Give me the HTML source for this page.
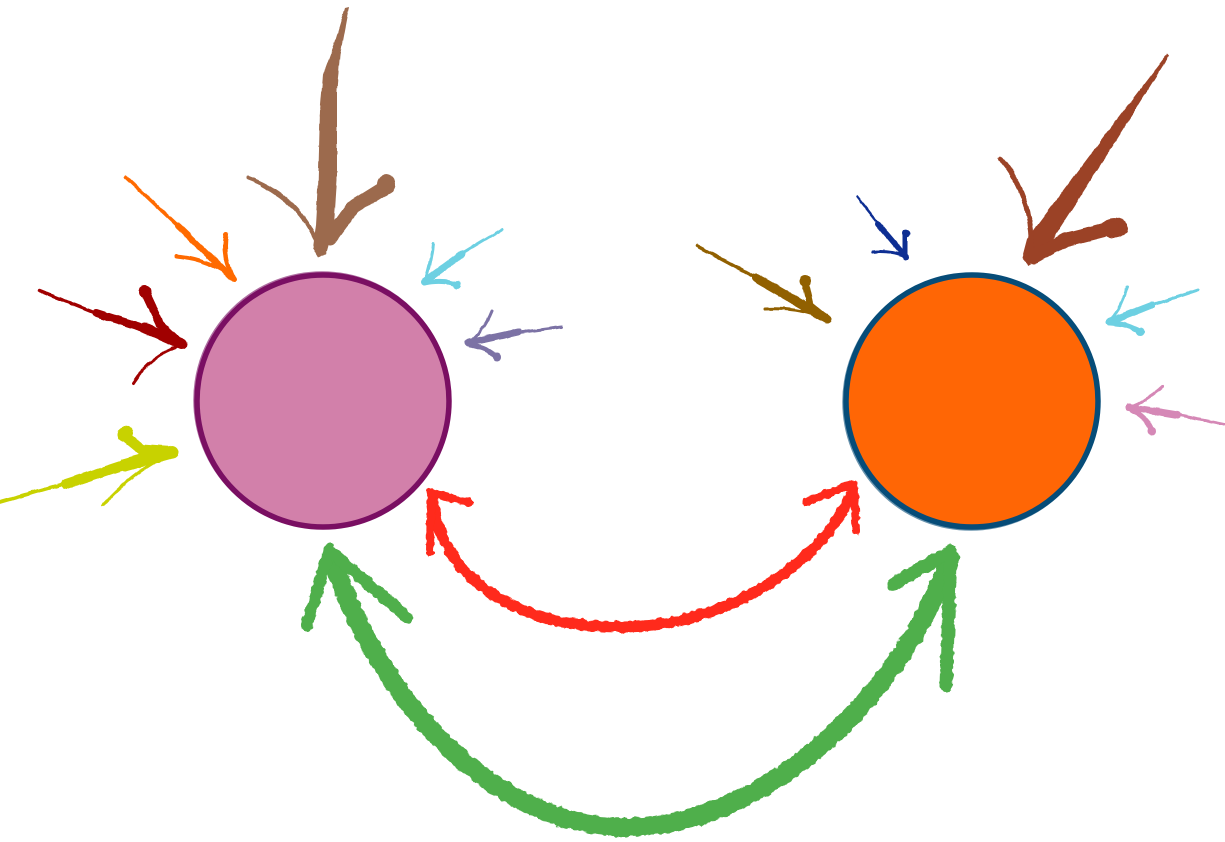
<!DOCTYPE html>
<html>
<head>
<meta charset="utf-8">
<style>
  html,body{margin:0;padding:0;background:#ffffff;}
  body{width:1225px;height:842px;overflow:hidden;}
  svg{display:block;}
</style>
</head>
<body>
<svg width="1225" height="842" viewBox="0 0 1225 842" xmlns="http://www.w3.org/2000/svg">
  <defs>
    <filter id="rough" x="-10%" y="-10%" width="120%" height="120%">
      <feTurbulence type="fractalNoise" baseFrequency="0.08" numOctaves="2" seed="3" result="n"/>
      <feDisplacementMap in="SourceGraphic" in2="n" scale="3" xChannelSelector="R" yChannelSelector="G"/>
    </filter>
    <filter id="rough2" x="-10%" y="-10%" width="120%" height="120%">
      <feTurbulence type="fractalNoise" baseFrequency="0.15" numOctaves="2" seed="7" result="n"/>
      <feDisplacementMap in="SourceGraphic" in2="n" scale="5" xChannelSelector="R" yChannelSelector="G"/>
    </filter>
  </defs>

  <!-- Left circle -->
  <circle cx="323" cy="401" r="126" fill="#D280AA" stroke="#7A0F63" stroke-width="5.5"/>
  <circle cx="322" cy="400" r="128" fill="none" stroke="#7A0F63" stroke-width="1.5" opacity="0.6"/>

  <!-- Right circle -->
  <circle cx="972" cy="401" r="126" fill="#FF6605" stroke="#064C78" stroke-width="5.5"/>
  <circle cx="971" cy="402" r="128" fill="none" stroke="#064C78" stroke-width="1.5" opacity="0.6"/>

  <g filter="url(#rough)" stroke-linecap="round" stroke-linejoin="round" fill="none">
    <!-- Brown big arrow -->
    <polygon fill="#9C6B4E" stroke="none" points="345,8 334,45 323,75 320,110 319,150 318,190 316,225 313,248 319,258 326,254 334,225 337,180 337,130 337,90 340,55 349,7"/>
    <ellipse cx="386" cy="184" rx="9" ry="10" fill="#9C6B4E"/>
    <path d="M384,188 L352,208 L330,238" stroke="#9C6B4E" stroke-width="14"/>
    <path d="M248,178 Q298,196 318,245" stroke="#9C6B4E" stroke-width="4"/>
    <path d="M262,186 Q300,206 314,238" stroke="#9C6B4E" stroke-width="2.5"/>

    <!-- Orange -->
    <path d="M126,177 L180,228" stroke="#FF6A00" stroke-width="3.5"/>
    <path d="M178,226 L234,280" stroke="#FF6A00" stroke-width="6"/>
    <path d="M177,256 Q212,260 234,279" stroke="#FF6A00" stroke-width="4"/>
    <path d="M226,234 Q222,258 234,280" stroke="#FF6A00" stroke-width="5"/>

    <!-- Dark red -->
    <path d="M40,291 L100,315" stroke="#A00000" stroke-width="3.5"/>
    <path d="M96,313 L150,330" stroke="#A00000" stroke-width="8"/>
    <path d="M145,328 L182,344" stroke="#A00000" stroke-width="11"/>
    <circle cx="145" cy="292" r="6.5" fill="#A00000"/>
    <path d="M146,294 L160,324 L180,343" stroke="#A00000" stroke-width="8"/>
    <path d="M133,383 Q150,356 180,346" stroke="#A00000" stroke-width="3"/>

    <!-- Yellow-green -->
    <path d="M0,502 L70,482" stroke="#C8D200" stroke-width="4"/>
    <path d="M66,484 L130,463" stroke="#C8D200" stroke-width="10"/>
    <path d="M125,465 L172,452" stroke="#C8D200" stroke-width="13"/>
    <circle cx="125" cy="434" r="8" fill="#C8D200"/>
    <path d="M126,437 L142,450 L171,452" stroke="#C8D200" stroke-width="11"/>
    <path d="M103,505 Q135,470 170,454" stroke="#C8D200" stroke-width="3"/>

    <!-- Cyan left -->
    <path d="M503,229 L460,255" stroke="#6DD0E2" stroke-width="3"/>
    <path d="M462,254 L424,282" stroke="#6DD0E2" stroke-width="7"/>
    <path d="M433,244 Q431,262 425,281" stroke="#6DD0E2" stroke-width="3"/>
    <path d="M424,283 Q445,279 457,285" stroke="#6DD0E2" stroke-width="5"/>
    <circle cx="457" cy="285" r="4" fill="#6DD0E2"/>

    <!-- Purple-gray -->
    <path d="M562,327 L515,333" stroke="#7C72A5" stroke-width="3"/>
    <path d="M518,332 L468,343" stroke="#7C72A5" stroke-width="7"/>
    <path d="M492,311 Q484,331 469,343" stroke="#7C72A5" stroke-width="3"/>
    <path d="M470,345 Q488,348 496,357" stroke="#7C72A5" stroke-width="5"/>
    <circle cx="497" cy="357" r="4" fill="#7C72A5"/>

    <!-- Gold -->
    <path d="M697,246 L760,280" stroke="#916000" stroke-width="3.5"/>
    <path d="M756,278 L827,319" stroke="#916000" stroke-width="9"/>
    <circle cx="805" cy="281" r="6" fill="#916000"/>
    <path d="M805,283 L810,305 L826,318" stroke="#916000" stroke-width="7"/>
    <path d="M765,309 Q800,307 826,319" stroke="#916000" stroke-width="3"/>

    <!-- Navy -->
    <path d="M857,197 L880,226" stroke="#0F2F93" stroke-width="2.5"/>
    <path d="M878,224 L906,257" stroke="#0F2F93" stroke-width="6"/>
    <circle cx="906" cy="234" r="4" fill="#0F2F93"/>
    <path d="M905,236 L905,256" stroke="#0F2F93" stroke-width="5"/>
    <path d="M872,252 Q892,250 906,257" stroke="#0F2F93" stroke-width="3"/>

    <!-- Rust big arrow -->
    <polygon fill="#9B4227" stroke="none" points="1167,54 1121,114 1075,175 1027,239 1022,258 1028,265 1045,251 1089,183 1129,120 1169,56"/>
    <path d="M1001,159 Q1032,195 1032,250" stroke="#9B4227" stroke-width="5"/>
    <ellipse cx="1114" cy="228" rx="14" ry="10" fill="#9B4227"/>
    <path d="M1112,228 L1065,240 L1034,257" stroke="#9B4227" stroke-width="14"/>

    <!-- Cyan right -->
    <path d="M1198,290 L1150,306" stroke="#6DD0E2" stroke-width="3"/>
    <path d="M1152,305 L1109,322" stroke="#6DD0E2" stroke-width="7"/>
    <path d="M1127,287 Q1122,305 1110,322" stroke="#6DD0E2" stroke-width="3"/>
    <path d="M1110,323 Q1130,324 1140,332" stroke="#6DD0E2" stroke-width="5"/>
    <circle cx="1140" cy="332" r="4" fill="#6DD0E2"/>

    <!-- Pink right -->
    <path d="M1224,424 L1175,414" stroke="#D588B6" stroke-width="3"/>
    <path d="M1178,415 L1129,407" stroke="#D588B6" stroke-width="7"/>
    <path d="M1163,386 Q1148,400 1130,407" stroke="#D588B6" stroke-width="3"/>
    <path d="M1132,410 Q1148,418 1152,431" stroke="#D588B6" stroke-width="5"/>
    <circle cx="1152" cy="431" r="4" fill="#D588B6"/>
  </g>

  <g filter="url(#rough2)" stroke-linecap="round" stroke-linejoin="round" fill="none">
    <!-- Red arc arrow -->
    <path d="M432,495 C440,575 510,627 620,627 C730,627 825,560 853,490" stroke="#FF2A1A" stroke-width="11"/>
    <path d="M430,553 L431,492 L469,503" stroke="#FF2A1A" stroke-width="8"/>
    <path d="M806,502 L854,484 L856,531" stroke="#FF2A1A" stroke-width="8"/>

    <!-- Green arc arrow -->
    <path d="M332,556 C370,680 480,826 625,827 C760,829 900,700 950,558" stroke="#4FAF4B" stroke-width="19"/>
    <path d="M307,625 L329,550 L407,617" stroke="#4FAF4B" stroke-width="12"/>
    <path d="M894,584 L951,551 L946,686" stroke="#4FAF4B" stroke-width="13"/>
  </g>
</svg>
</body>
</html>
